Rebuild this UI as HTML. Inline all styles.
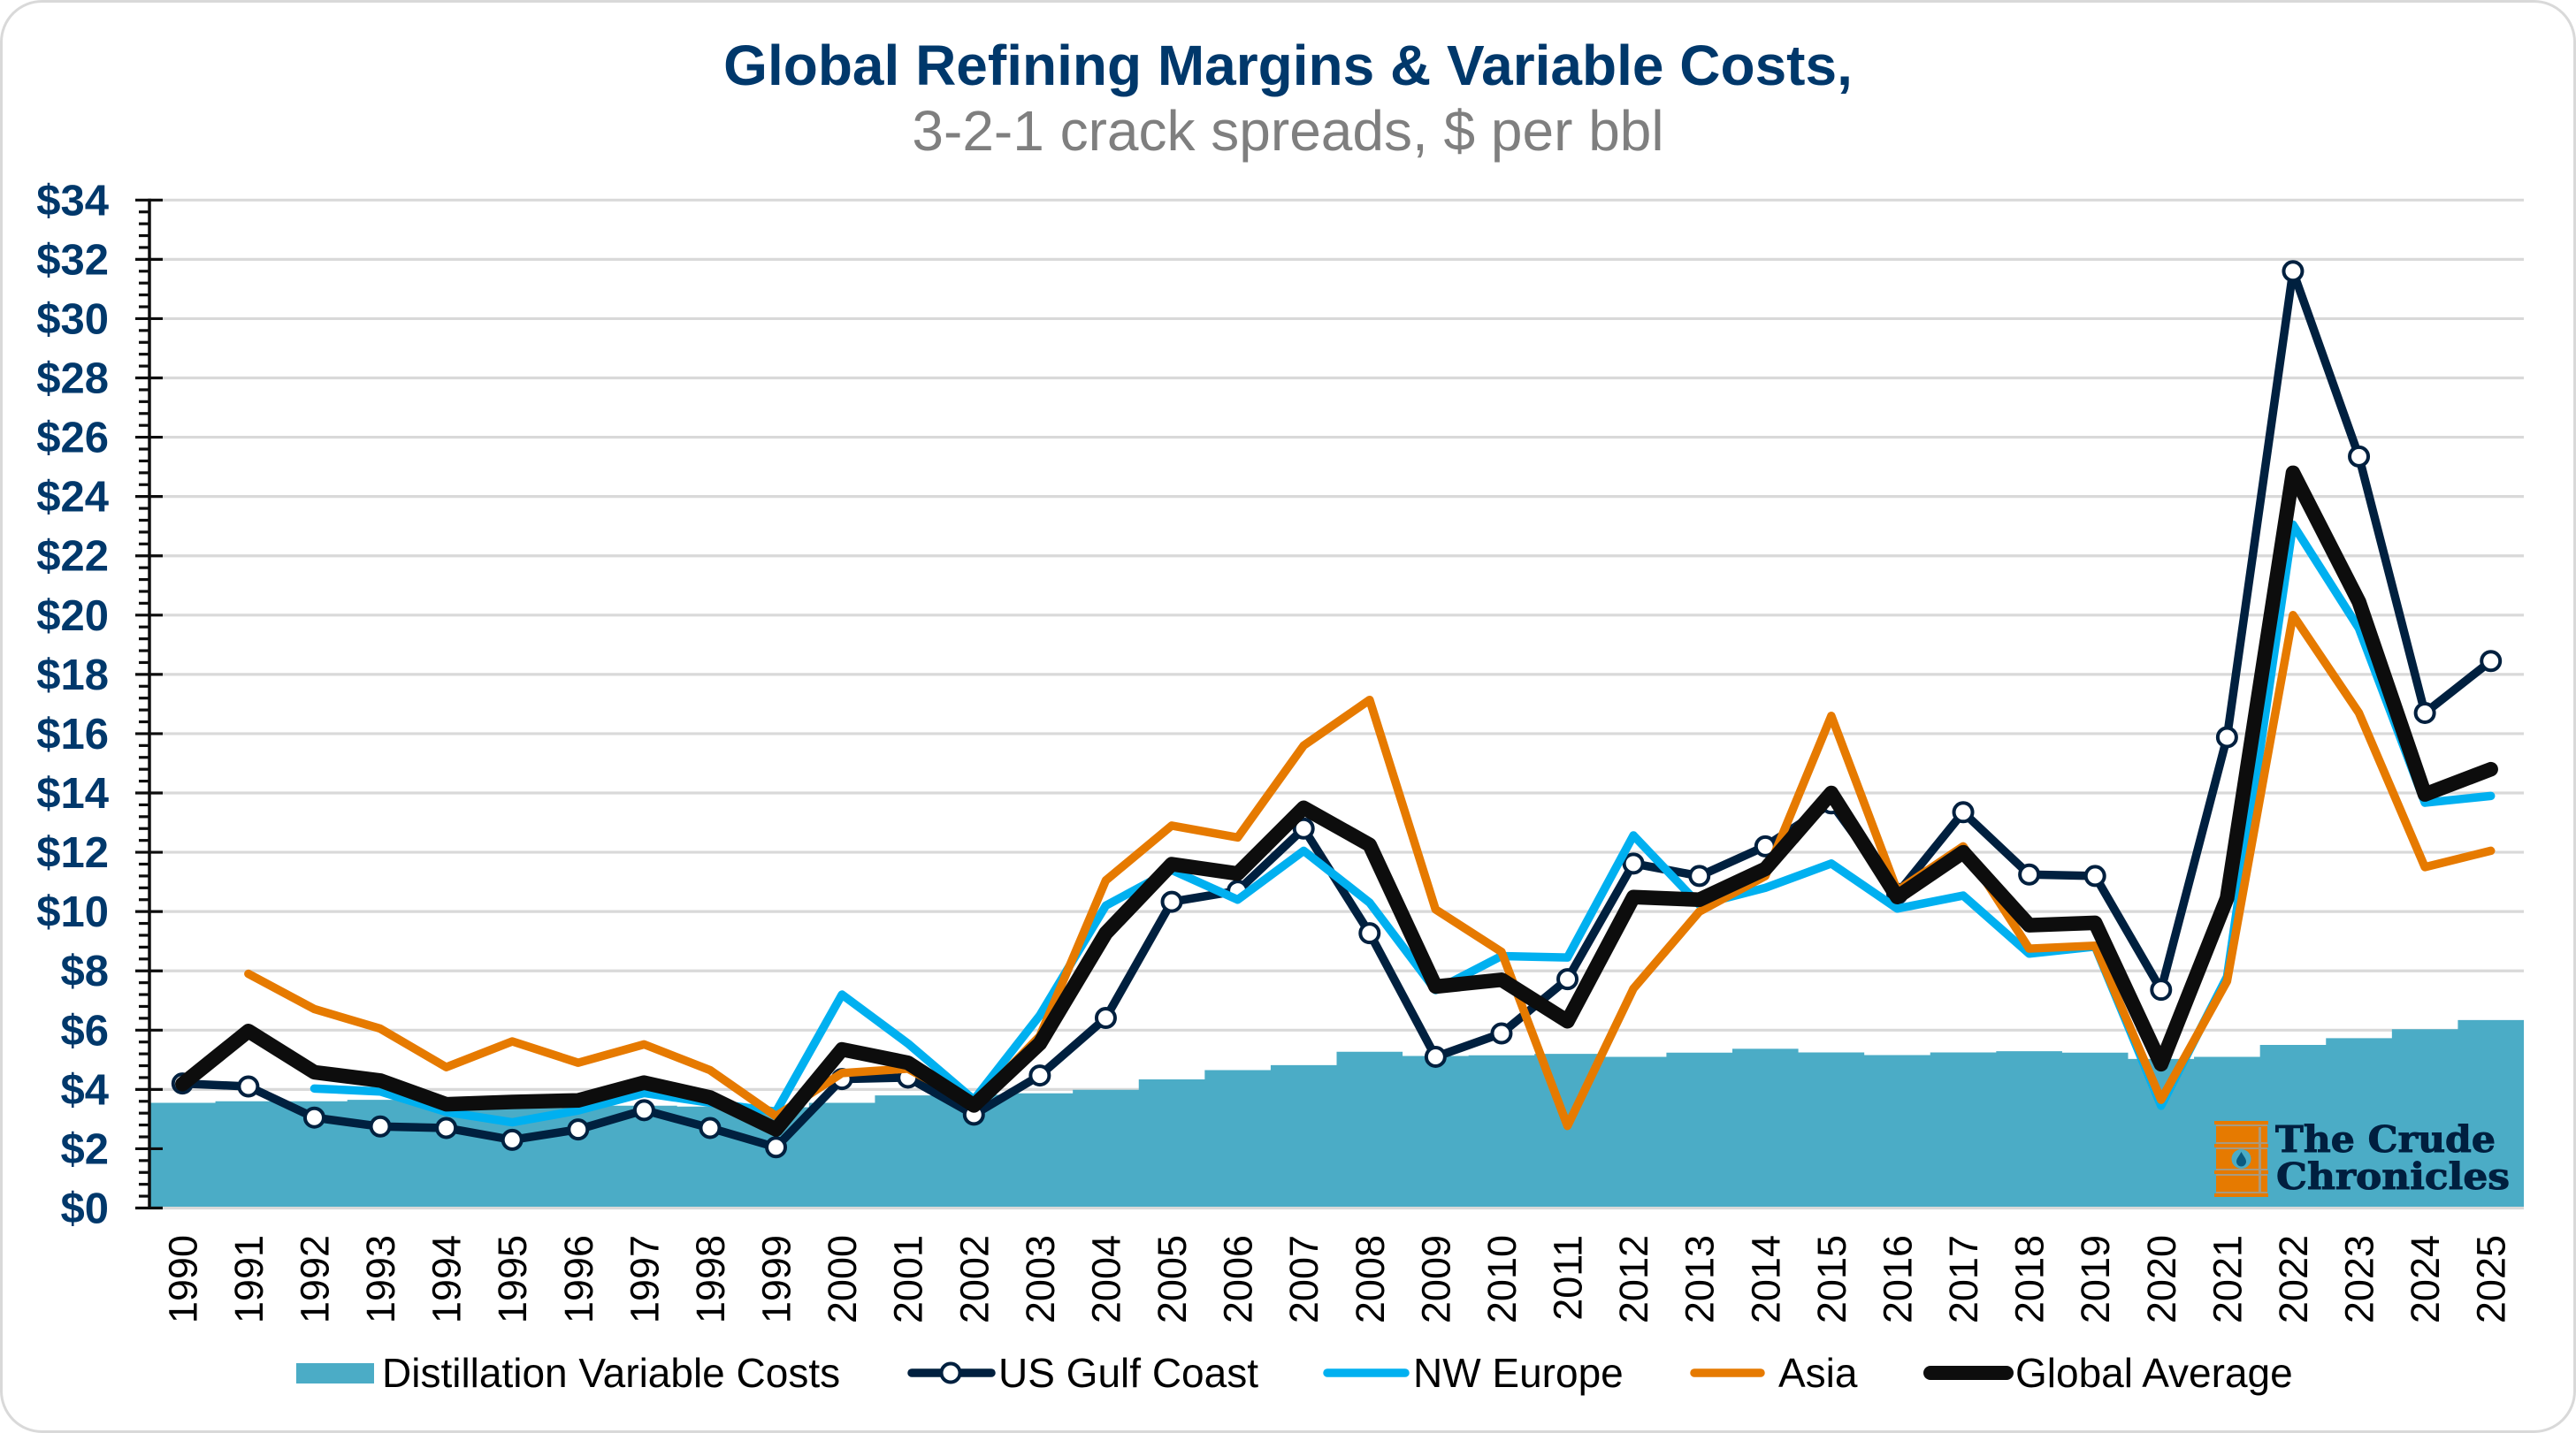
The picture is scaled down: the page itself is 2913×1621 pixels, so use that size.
<!DOCTYPE html>
<html lang="en">
<head>
<meta charset="utf-8">
<title>Global Refining Margins &amp; Variable Costs</title>
<style>
  html, body { margin: 0; padding: 0; background: #fff; }
  body { width: 2913px; height: 1621px; overflow: hidden; }
  svg { display: block; font-family: "Liberation Sans", Arial, sans-serif; }
</style>
</head>
<body>
<svg id="chart" xmlns="http://www.w3.org/2000/svg" width="2913" height="1621" viewBox="0 0 2913 1621">
  <rect x="1.5" y="1.5" width="2910" height="1618" rx="46" ry="46" fill="#ffffff" stroke="#D9D9D9" stroke-width="3"/>
  <text x="1456.5" y="96" text-anchor="middle" font-size="64" font-weight="700" fill="#00386B">Global Refining Margins &amp; Variable Costs,</text>
  <text x="1456.5" y="170" text-anchor="middle" font-size="64" fill="#7F7F7F">3-2-1 crack spreads, $ per bbl</text>
  <g id="grid-layer"></g>
  <g id="area-layer"></g>
  <g id="line-layer"></g>
  <g id="axis-layer"></g>

  <g>
    <g>
      <rect x="2506" y="1272" width="58" height="80" fill="#E67A00"/>
      <rect x="2504" y="1268" width="61" height="4" fill="#E67A00"/>
      <rect x="2504" y="1294" width="61" height="4" fill="#E67A00"/>
      <rect x="2504" y="1324" width="61" height="4" fill="#E67A00"/>
      <rect x="2504" y="1350" width="61" height="4" fill="#E67A00"/>
      <rect x="2506" y="1272" width="58" height="2" fill="#A89A80"/>
      <rect x="2506" y="1292" width="58" height="2" fill="#A89A80"/>
      <rect x="2506" y="1298" width="58" height="2" fill="#A89A80"/>
      <rect x="2506" y="1322" width="58" height="2" fill="#A89A80"/>
      <rect x="2506" y="1328" width="58" height="2" fill="#A89A80"/>
      <rect x="2506" y="1348" width="58" height="2" fill="#A89A80"/>
      <rect x="2554" y="1275" width="3" height="73" fill="#A89A80"/>
      <circle cx="2534.5" cy="1311" r="11" fill="#4BACC6"/>
      <path d="M2534.5 1303 C2531 1309 2529 1311 2529 1314 A5.5 5.5 0 0 0 2540 1314 C2540 1311 2538 1309 2534.5 1303 Z" fill="#0B5A80"/>
    </g>
    <text x="2573" y="1303" font-family="'DejaVu Serif', 'Liberation Serif', serif" font-weight="700" font-size="41" fill="#001F3F" stroke="#001F3F" stroke-width="1" textLength="249" lengthAdjust="spacingAndGlyphs">The Crude</text>
    <text x="2574" y="1345" font-family="'DejaVu Serif', 'Liberation Serif', serif" font-weight="700" font-size="41" fill="#001F3F" stroke="#001F3F" stroke-width="1" textLength="264" lengthAdjust="spacingAndGlyphs">Chronicles</text>
  </g>

  <g font-size="46" fill="#000000">
    <g>
      <rect x="335" y="1542" width="88" height="23" fill="#4BACC6"/>
      <text x="432" y="1569">Distillation Variable Costs</text>
    </g>
    <g>
      <line x1="1031" y1="1553" x2="1121" y2="1553" stroke="#00203F" stroke-width="9.5" stroke-linecap="round"/>
      <circle cx="1075" cy="1553" r="10.5" fill="#ffffff" stroke="#00203F" stroke-width="4"/>
      <text x="1129" y="1569">US Gulf Coast</text>
    </g>
    <g>
      <line x1="1501" y1="1553" x2="1589" y2="1553" stroke="#00B0F0" stroke-width="9.5" stroke-linecap="round"/>
      <text x="1598" y="1569">NW Europe</text>
    </g>
    <g>
      <line x1="1916" y1="1553" x2="1991" y2="1553" stroke="#E67A00" stroke-width="9.5" stroke-linecap="round"/>
      <text x="2011" y="1569">Asia</text>
    </g>
    <g>
      <line x1="2183" y1="1553" x2="2269" y2="1553" stroke="#0D0D0D" stroke-width="16" stroke-linecap="round"/>
      <text x="2279" y="1569">Global Average</text>
    </g>
  </g>
</svg>

<script>
// ---- chart data ----
const years = [1990,1991,1992,1993,1994,1995,1996,1997,1998,1999,2000,2001,2002,2003,2004,2005,2006,2007,2008,2009,2010,2011,2012,2013,2014,2015,2016,2017,2018,2019,2020,2021,2022,2023,2024,2025];
const yTickLabels = ["$0","$2","$4","$6","$8","$10","$12","$14","$16","$18","$20","$22","$24","$26","$28","$30","$32","$34"];
const yTickValues = [0,2,4,6,8,10,12,14,16,18,20,22,24,26,28,30,32,34];
const distillationCosts = [3.55,3.6,3.6,3.65,3.6,3.55,3.5,3.45,3.42,3.4,3.55,3.8,3.82,3.87,3.99,4.34,4.65,4.82,5.27,5.13,5.15,5.2,5.1,5.24,5.37,5.25,5.16,5.25,5.29,5.24,5.03,5.1,5.5,5.73,6.03,6.34];
const usGulfCoast = [4.2,4.1,3.05,2.75,2.7,2.3,2.65,3.3,2.7,2.05,4.35,4.4,3.15,4.47,6.41,10.33,10.7,12.8,9.27,5.1,5.89,7.72,11.62,11.2,12.2,13.65,10.6,13.35,11.25,11.2,7.36,15.88,31.6,25.35,16.7,18.45];
const nwEurope = [null,null,4.03,3.93,3.24,2.89,3.29,3.88,3.55,3.25,7.2,5.55,3.65,6.5,10.2,11.4,10.4,12.05,10.3,7.35,8.5,8.45,12.57,10.23,10.8,11.62,10.1,10.54,8.58,8.82,3.45,7.8,23.05,19.55,13.67,13.9];
const asia = [null,7.9,6.71,6.05,4.75,5.62,4.9,5.52,4.65,3.1,4.55,4.7,3.5,5.8,11.05,12.9,12.5,15.6,17.14,10.07,8.64,2.77,7.4,10.0,11.2,16.6,10.7,12.2,8.75,8.85,3.65,7.65,20.0,16.7,11.5,12.05];
const globalAverage = [4.18,5.97,4.58,4.3,3.5,3.58,3.63,4.23,3.73,2.65,5.35,4.9,3.46,5.55,9.27,11.6,11.28,13.5,12.25,7.47,7.7,6.3,10.49,10.4,11.44,14.0,10.49,12.0,9.54,9.62,4.85,10.45,24.8,20.45,13.95,14.8];

// ---- axis functions ----
const plotLeft = 169, plotRight = 2854, yZero = 1366.5, yTop = 226.3, yMax = 34;
const bandWidth = (plotRight - plotLeft) / years.length;
const xBand = i => plotLeft + bandWidth * i;
const xCenter = i => xBand(i) + bandWidth / 2;
const yScale = v => yZero - (v / yMax) * (yZero - yTop);

const NS = 'http://www.w3.org/2000/svg';
function make(tag, attrs, parent) {
  const node = document.createElementNS(NS, tag);
  for (const k in attrs) node.setAttribute(k, attrs[k]);
  parent.appendChild(node);
  return node;
}
const gridLayer = document.getElementById('grid-layer');
const areaLayer = document.getElementById('area-layer');
const lineLayer = document.getElementById('line-layer');
const axisLayer = document.getElementById('axis-layer');

// ---- gridlines ----
yTickValues.forEach(v => {
  const g = make('line', {x1: plotLeft, x2: plotRight, y1: yScale(v), y2: yScale(v), stroke: '#D9D9D9', 'stroke-width': 3.2}, gridLayer);
  
  
});

// ---- stepped area ----
let areaPath = 'M' + xBand(0) + ' ' + (yZero - 1.5);
distillationCosts.forEach((v, i) => {
  areaPath += ' L' + xBand(i) + ' ' + yScale(v) + ' L' + xBand(i + 1) + ' ' + yScale(v);
});
areaPath += ' L' + xBand(years.length) + ' ' + (yZero - 1.5) + ' Z';
const area = make('path', {d: areaPath, fill: '#4BACC6'}, areaLayer);



// ---- lines ----
function linePath(values) {
  let d = '', pen = false;
  values.forEach((v, i) => {
    if (v === null) { pen = false; return; }
    d += (pen ? ' L' : ' M') + xCenter(i) + ' ' + yScale(v);
    pen = true;
  });
  return d;
}
const lineStyle = {fill: 'none', 'stroke-linejoin': 'round', 'stroke-linecap': 'round'};

const gulfLine = make('path', Object.assign({d: linePath(usGulfCoast), stroke: '#00203F', 'stroke-width': 9.5}, lineStyle), lineLayer);



usGulfCoast.forEach((v, i) => {
  const m = make('circle', {cx: xCenter(i), cy: yScale(v), r: 10.5, fill: '#ffffff', stroke: '#00203F', 'stroke-width': 4}, lineLayer);
  
  
});

const europeLine = make('path', Object.assign({d: linePath(nwEurope), stroke: '#00B0F0', 'stroke-width': 9.5}, lineStyle), lineLayer);



const asiaLine = make('path', Object.assign({d: linePath(asia), stroke: '#E67A00', 'stroke-width': 9.5}, lineStyle), lineLayer);



const globalLine = make('path', Object.assign({d: linePath(globalAverage), stroke: '#0D0D0D', 'stroke-width': 16.5}, lineStyle), lineLayer);



// ---- y axis ----
const axisLine = make('line', {x1: plotLeft, x2: plotLeft, y1: yTop - 1.5, y2: yZero + 1.5, stroke: '#0D0D0D', 'stroke-width': 3.5}, axisLayer);



yTickValues.forEach((v, idx) => {
  const major = make('line', {x1: 153, x2: 184, y1: yScale(v), y2: yScale(v), stroke: '#0D0D0D', 'stroke-width': 3.2}, axisLayer);
  
  

  const label = make('text', {x: 123, y: yScale(v) + 17, 'text-anchor': 'end', 'font-size': 49, 'font-weight': 700, fill: '#00386B'}, axisLayer);
  
  
  label.textContent = yTickLabels[idx];

  if (idx < yTickValues.length - 1) {
    for (let k = 1; k < 5; k++) {
      const mv = v + (yTickValues[idx + 1] - v) * k / 5;
      const minor = make('line', {x1: 157, x2: 169, y1: yScale(mv), y2: yScale(mv), stroke: '#0D0D0D', 'stroke-width': 3.2}, axisLayer);
      
      
    }
  }
});

// ---- x axis labels ----
years.forEach((yr, i) => {
  const bx = xCenter(i) + 16;
  const t = make('text', {x: bx, y: 1397, transform: 'rotate(-90 ' + bx + ' 1397)', 'text-anchor': 'end', 'font-size': 45, fill: '#000000'}, axisLayer);
  
  
  t.textContent = yr;
});
</script>
</body>
</html>
